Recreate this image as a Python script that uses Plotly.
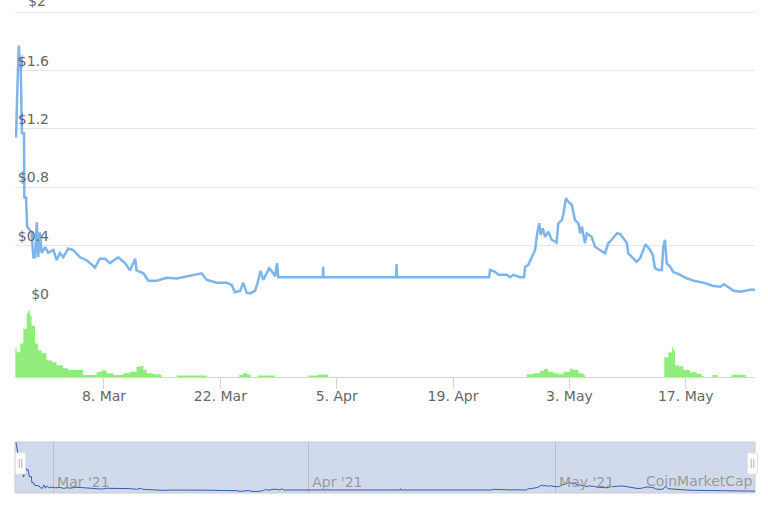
import plotly.graph_objects as go

# price, hourly-ish samples (USD)
price_time = [
    "2021-02-25 10:00", "2021-02-25 12:00", "2021-02-25 14:00", "2021-02-25 18:00",
    "2021-02-25 21:00", "2021-02-25 23:00", "2021-02-26 01:00", "2021-02-26 03:00",
    "2021-02-26 09:00", "2021-02-26 10:00", "2021-02-26 15:00", "2021-02-26 18:00",
    "2021-02-27 07:00", "2021-02-27 12:00", "2021-02-27 17:00", "2021-02-27 22:00",
    "2021-02-28 02:00", "2021-02-28 07:00", "2021-02-28 12:00", "2021-02-28 22:00",
    "2021-03-01 07:00", "2021-03-01 22:00", "2021-03-02 07:00", "2021-03-02 17:00",
    "2021-03-03 02:00", "2021-03-03 17:00", "2021-03-04 07:00", "2021-03-05 03:00",
    "2021-03-05 22:00", "2021-03-06 22:00", "2021-03-07 12:00", "2021-03-08 03:00",
    "2021-03-08 17:00", "2021-03-09 17:00", "2021-03-10 13:00", "2021-03-11 03:00",
    "2021-03-11 18:00", "2021-03-11 22:00", "2021-03-12 18:00", "2021-03-13 08:00",
    "2021-03-14 08:00", "2021-03-15 13:00", "2021-03-16 18:00", "2021-03-17 13:00",
    "2021-03-18 23:00", "2021-03-19 18:00", "2021-03-20 09:00", "2021-03-21 14:00",
    "2021-03-22 18:00", "2021-03-23 09:00", "2021-03-23 18:00", "2021-03-24 09:00",
    "2021-03-24 18:00", "2021-03-25 04:00", "2021-03-25 14:00", "2021-03-26 04:00",
    "2021-03-26 11:00", "2021-03-26 20:00", "2021-03-27 04:00", "2021-03-27 14:00",
    "2021-03-27 21:00", "2021-03-28 09:00", "2021-03-28 14:00", "2021-03-28 20:00",
    "2021-03-28 23:00", "2021-04-03 08:00", "2021-04-03 09:00", "2021-04-03 10:00",
    "2021-04-12 04:00", "2021-04-12 05:00", "2021-04-12 06:00", "2021-04-23 08:00",
    "2021-04-23 11:00", "2021-04-24 01:00", "2021-04-24 11:00", "2021-04-25 11:00",
    "2021-04-25 21:00", "2021-04-26 06:00", "2021-04-27 01:00", "2021-04-27 13:00",
    "2021-04-27 16:00", "2021-04-28 01:00", "2021-04-28 11:00", "2021-04-28 21:00",
    "2021-04-29 03:00", "2021-04-29 09:00", "2021-04-29 13:00", "2021-04-29 19:00",
    "2021-04-30 02:00", "2021-04-30 11:00", "2021-04-30 21:00", "2021-05-01 11:00",
    "2021-05-01 16:00", "2021-05-02 02:00", "2021-05-02 07:00", "2021-05-02 14:00",
    "2021-05-02 21:00", "2021-05-03 07:00", "2021-05-03 16:00", "2021-05-04 02:00",
    "2021-05-04 07:00", "2021-05-04 12:00", "2021-05-04 21:00", "2021-05-05 02:00",
    "2021-05-05 16:00", "2021-05-06 02:00", "2021-05-06 16:00", "2021-05-07 07:00",
    "2021-05-07 16:00", "2021-05-08 02:00", "2021-05-08 17:00", "2021-05-09 02:00",
    "2021-05-09 12:00", "2021-05-09 22:00", "2021-05-10 02:00", "2021-05-10 17:00",
    "2021-05-11 02:00", "2021-05-11 12:00", "2021-05-11 21:00", "2021-05-12 04:00",
    "2021-05-12 17:00", "2021-05-13 01:00", "2021-05-13 07:00", "2021-05-13 17:00",
    "2021-05-14 03:00", "2021-05-14 07:00", "2021-05-14 12:00", "2021-05-14 17:00",
    "2021-05-15 03:00", "2021-05-15 12:00", "2021-05-16 08:00", "2021-05-17 03:00",
    "2021-05-17 22:00", "2021-05-19 03:00", "2021-05-20 08:00", "2021-05-21 04:00",
    "2021-05-21 15:00", "2021-05-22 03:00", "2021-05-22 18:00", "2021-05-23 13:00",
    "2021-05-24 08:00", "2021-05-24 23:00", "2021-05-25 08:00",
]
price_usd = [
    1.14, 1.40, 1.49, 1.77, 1.62, 1.69, 1.40, 1.17,
    1.17, 0.73, 0.73, 0.53, 0.49, 0.32, 0.32, 0.56,
    0.32, 0.49, 0.35, 0.39, 0.35, 0.37, 0.30, 0.35,
    0.32, 0.38, 0.37, 0.32, 0.30, 0.25, 0.31, 0.31,
    0.28, 0.32, 0.28, 0.23, 0.31, 0.23, 0.21, 0.16,
    0.16, 0.18, 0.175, 0.185, 0.205, 0.21, 0.165, 0.146,
    0.146, 0.13, 0.08, 0.09, 0.146, 0.077, 0.073, 0.09,
    0.14, 0.225, 0.165, 0.21, 0.245, 0.21, 0.19, 0.28,
    0.183, 0.183, 0.255, 0.183, 0.183, 0.274, 0.183, 0.183,
    0.233, 0.22, 0.20, 0.20, 0.183, 0.20, 0.183, 0.183,
    0.255, 0.267, 0.324, 0.37, 0.484, 0.553, 0.473, 0.518,
    0.46, 0.495, 0.44, 0.42, 0.553, 0.575, 0.62, 0.724,
    0.70, 0.678, 0.575, 0.553, 0.484, 0.53, 0.416, 0.484,
    0.46, 0.392, 0.37, 0.347, 0.416, 0.44, 0.484, 0.48,
    0.45, 0.416, 0.347, 0.313, 0.29, 0.313, 0.37, 0.41,
    0.37, 0.336, 0.245, 0.233, 0.233, 0.39, 0.44, 0.28,
    0.255, 0.22, 0.20, 0.176, 0.16, 0.146, 0.123, 0.118,
    0.135, 0.118, 0.091, 0.084, 0.091, 0.10, 0.096,
]

# earlier prices only visible in the navigator strip
nav_pre_time = ["2021-02-24 12:00", "2021-02-24 18:00"]
nav_pre_usd = [3.7, 2.8]

# 24h volume (millions USD, approx)
vol_time = [
    "2021-02-25 08:00", "2021-02-25 12:00", "2021-02-25 22:00", "2021-02-26 07:00",
    "2021-02-26 17:00", "2021-02-26 21:00", "2021-02-27 02:00", "2021-02-27 07:00",
    "2021-02-27 17:00", "2021-02-28 02:00", "2021-02-28 12:00", "2021-03-01 02:00",
    "2021-03-01 17:00", "2021-03-02 07:00", "2021-03-03 02:00", "2021-03-03 17:00",
    "2021-03-04 17:00", "2021-03-05 12:00", "2021-03-06 08:00", "2021-03-07 03:00",
    "2021-03-07 17:00", "2021-03-08 08:00", "2021-03-09 03:00", "2021-03-10 08:00",
    "2021-03-11 03:00", "2021-03-11 22:00", "2021-03-12 10:00", "2021-03-12 18:00",
    "2021-03-13 03:00", "2021-03-13 22:00", "2021-03-14 18:00", "2021-03-14 23:00",
    "2021-03-16 18:00", "2021-03-20 09:00", "2021-03-24 06:00", "2021-03-24 18:00",
    "2021-03-25 06:00", "2021-03-25 16:00", "2021-03-26 12:00", "2021-03-28 14:00",
    "2021-04-01 14:00", "2021-04-02 18:00", "2021-04-04 00:00", "2021-04-27 21:00",
    "2021-04-28 16:00", "2021-04-29 11:00", "2021-04-29 23:00", "2021-04-30 11:00",
    "2021-05-01 02:00", "2021-05-01 16:00", "2021-05-02 07:00", "2021-05-03 02:00",
    "2021-05-03 11:00", "2021-05-04 02:00", "2021-05-04 16:00", "2021-05-04 21:00",
    "2021-05-14 10:00", "2021-05-14 22:00", "2021-05-15 08:00", "2021-05-15 12:00",
    "2021-05-15 17:00", "2021-05-16 03:00", "2021-05-16 17:00", "2021-05-17 12:00",
    "2021-05-18 08:00", "2021-05-18 22:00", "2021-05-19 03:00", "2021-05-20 05:00",
    "2021-05-20 20:00", "2021-05-22 12:00", "2021-05-24 05:00", "2021-05-25 08:00",
]
vol_musd = [
    29, 25, 34, 49, 65, 67, 62, 52,
    34, 27, 24, 17, 15, 12, 9, 7,
    7, 2, 2, 5, 6.7, 3.7, 2, 3.7,
    5.3, 10.3, 11.3, 7, 3.7, 2.7, 2, 0,
    1.5, 0, 2, 4, 2.5, 0, 1.5, 0,
    1.5, 2.5, 0, 2.7, 3.7, 6.3, 8, 5.3,
    3.7, 2.7, 5.3, 8, 7, 3.7, 2, 0,
    20, 25, 30, 27, 12, 11, 7, 4.7,
    3, 1, 0, 2, 0, 2.3, 0, 0,
]

main_range = ["2021-02-25 07:00", "2021-05-25 08:00"]
nav_range = ["2021-02-24 09:00", "2021-05-25 07:00"]
nav_ticks = ["2021-03-01", "2021-04-01", "2021-05-01"]
price_ticks = [0, 0.4, 0.8, 1.2, 1.6, 2.0]
price_labels = ["$" + f"{v:g}" for v in price_ticks]

FONT = "DejaVu Sans"
X0, X1 = 15 / 768, 755 / 768
# price pane: $0 at 304px, $2 at 12px -> 146 px per dollar
PRICE_TOP = 2.02

fig = go.Figure()
fig.add_trace(go.Scatter(
    x=price_time, y=price_usd, mode="lines",
    line=dict(color="#7cb5ec", width=2.5), xaxis="x", yaxis="y",
))
fig.add_trace(go.Scatter(
    x=vol_time, y=vol_musd, mode="lines", line_shape="hv",
    line=dict(color="#90ed7d", width=0), fill="tozeroy", fillcolor="#90ed7d",
    xaxis="x", yaxis="y2",
))
fig.add_trace(go.Scatter(
    x=nav_pre_time + price_time, y=nav_pre_usd + price_usd, mode="lines",
    line=dict(color="#335cad", width=1), xaxis="x2", yaxis="y3",
))

fig.update_layout(
    width=768, height=512,
    margin=dict(l=0, r=0, t=0, b=0),
    paper_bgcolor="white", plot_bgcolor="white",
    showlegend=False,
    font=dict(family=FONT, size=14, color="#666666"),
    xaxis=dict(
        domain=[X0, X1], anchor="y2", type="date", range=main_range,
        tick0="2021-03-08", dtick=14 * 86400000, tickformat="%-d. %b",
        showgrid=False, zeroline=False, automargin=False,
        showline=True, linecolor="#ccd6eb", linewidth=1,
        ticks="outside", ticklen=11, tickcolor="#ccd6eb", ticklabelstandoff=-5,
        tickfont=dict(size=14, color="#666666"),
    ),
    yaxis=dict(
        domain=[1 - 304 / 512, 1 - (304 - PRICE_TOP * 146) / 512], range=[0, PRICE_TOP],
        tickvals=price_ticks, ticktext=price_labels,
        anchor="free", position=49 / 768, ticklabelposition="outside top",
        automargin=False,
        showgrid=True, gridcolor="#e6e6e6", gridwidth=1, zeroline=False,
        tickfont=dict(size=14, color="#666666"),
    ),
    yaxis2=dict(
        domain=[1 - 377 / 512, 1 - 308 / 512], range=[0, 70], automargin=False,
        showgrid=False, showticklabels=False, zeroline=False,
    ),
    xaxis2=dict(
        domain=[X0, X1], anchor="y3", type="date", range=nav_range,
        tickvals=nav_ticks, tickformat="%b '%y", ticklabelposition="inside right",
        ticklabelshift=4, ticklabelstandoff=-3,
        showgrid=True, gridcolor="#b7bfcf", gridwidth=1, zeroline=False,
        showline=False, ticks="", automargin=False,
        tickfont=dict(size=14, color="#9a9a9a"),
    ),
    yaxis3=dict(
        domain=[1 - 493 / 512, 1 - 442 / 512], range=[-0.04, 3.74], automargin=False,
        showgrid=False, showticklabels=False, zeroline=False,
    ),
)

# top price label is cut by the page edge, plotly drops it, so place it by hand
fig.add_annotation(text=price_labels[-1], xref="paper", yref="y", x=48 / 768, y=price_ticks[-1],
                   xanchor="right", yanchor="bottom", yshift=1, showarrow=False,
                   font=dict(family=FONT, size=14, color="#666666"))

# navigator mask and outline
fig.add_shape(type="rect", xref="x2 domain", yref="y3 domain", x0=0, x1=1, y0=0, y1=1,
              fillcolor="rgba(102,133,194,0.3)", line=dict(color="#cccccc", width=1),
              layer="below")

# navigator handles
for hx in (20.5 / 768, 752.5 / 768):
    fig.add_shape(type="rect", xref="paper", yref="paper",
                  x0=hx - 5 / 768, x1=hx + 5 / 768, y0=1 - 474 / 512, y1=1 - 453 / 512,
                  fillcolor="white", line=dict(color="#e4e4e4", width=1))
    for dx in (-1.3, 1.3):
        fig.add_shape(type="line", xref="paper", yref="paper",
                      x0=hx + dx / 768, x1=hx + dx / 768, y0=1 - 468 / 512, y1=1 - 459 / 512,
                      line=dict(color="#b0b0b0", width=1))

fig.add_annotation(text="CoinMarketCap", xref="paper", yref="paper",
                   x=755 / 768, y=1 - 481 / 512, xanchor="right", yanchor="middle",
                   showarrow=False, font=dict(family=FONT, size=14, color="#9a9a9a"))

fig.write_html("out.html", config={"displayModeBar": False},
               post_script="document.body.style.margin='0';")
